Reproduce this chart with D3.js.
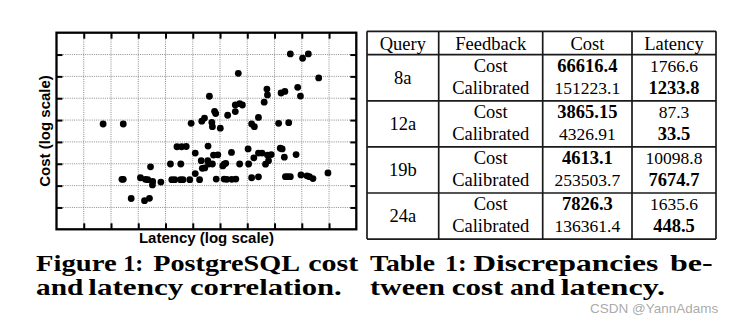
<!DOCTYPE html>
<html><head><meta charset="utf-8">
<script src="https://cdn.jsdelivr.net/npm/d3@7"></script>
<style>html,body{margin:0;padding:0;background:#fff;}svg{display:block;}</style>
</head><body>
<svg id="c" width="737" height="324"></svg>
<script>
const latencyLog = [1.71,2.45,2.74,3.23,3.41,2.40,2.45,3.08,3.26,3.35,3.53,3.52,3.83,3.45,4.18,4.56,4.23,4.34,4.55,4.64,4.89,5.25,4.42,4.59,4.76,5.09,5.31,5.35,5.44,5.09,4.94,5.33,5.43,5.56,5.58,5.72,5.55,5.76,5.92,5.86,6.10,6.15,6.21,6.15,6.25,6.43,6.58,6.42,6.72,7.03,7.05,7.16,7.24,7.41,7.54,7.41,7.67,7.74,7.88,7.78,8.21,8.28,8.36,8.40,8.49,8.58,8.79,8.97,9.19,9.28,9.41,9.96,5.80,5.84,6.28,6.56,5.70,5.72,6.01,7.16,7.26,7.41,8.15,8.52,8.58,9.03,9.24,9.62,6.67,8.85,8.95,7.72,7.74,8.24,8.38,7.62,5.61,6.56,6.72,6.82];
const costLog    = [4.82,4.82,1.41,1.31,1.42,2.29,2.29,2.36,2.29,2.27,2.19,2.03,2.16,2.86,2.99,2.99,2.27,2.27,2.27,2.27,2.27,2.27,3.78,3.78,3.79,3.49,3.14,2.79,2.81,2.55,4.85,4.95,5.09,3.81,2.99,2.99,3.14,3.40,3.41,2.30,2.90,2.98,3.02,2.30,2.29,2.29,2.30,3.52,2.99,3.68,2.99,2.36,3.27,3.49,3.49,2.40,2.98,3.40,3.42,3.14,3.71,3.68,3.30,2.41,2.41,2.41,3.42,2.49,2.45,2.41,2.32,2.58,5.40,5.30,5.22,5.39,4.89,4.70,4.63,4.82,4.70,5.12,4.85,4.88,8.03,7.83,8.03,6.93,7.14,6.50,6.10,6.42,6.15,6.24,6.31,5.82,6.09,5.69,5.75,5.69];
const xGrid = [1,2,3,4,5,6,7,8,9,10];
const yGrid = [1,2,3,4,5,6,7,8];

// ---- Table data ----
const queries = ["8a","12a","19b","24a"];
const feedback = ["Cost","Calibrated"];
const headers = ["Query","Feedback","Cost","Latency"];
const costLabels = [["66616.4","151223.1"],["3865.15","4326.91"],["4613.1","253503.7"],["7826.3","136361.4"]];
const latencyLabels = [["1766.6","1233.8"],["87.3","33.5"],["10098.8","7674.7"],["1635.6","448.5"]];

const svg = d3.select("#c");
svg.append("rect").attr("width",737).attr("height",324).attr("fill","#fff");

// ---- Scatter ----
const x = d3.scaleLinear().domain([0,11]).range([56.5,356.3]);
const y = d3.scaleLinear().domain([0,9]).range([229.3,32.7]);
const g = svg.append("g");
g.selectAll("line.vg").data(xGrid).join("line").attr("class","vg")
  .attr("x1",d=>x(d)).attr("x2",d=>x(d)).attr("y1",y(9)).attr("y2",y(0))
  .attr("stroke","#8a8a8a").attr("stroke-width",1).attr("stroke-dasharray","1,1.2");
g.selectAll("line.hg").data(yGrid).join("line").attr("class","hg")
  .attr("y1",d=>y(d)).attr("y2",d=>y(d)).attr("x1",x(0)).attr("x2",x(11))
  .attr("stroke","#8a8a8a").attr("stroke-width",1).attr("stroke-dasharray","1,1.2");

function styleAxis(sel){
  sel.select(".domain").remove();
  sel.selectAll(".tick line").attr("stroke","#000").attr("stroke-width",2);
  sel.selectAll(".tick text").remove();
}
g.append("g").attr("transform",`translate(${x(0)},0)`).call(d3.axisLeft(y).tickValues(yGrid).tickSize(-6).tickFormat("")).call(styleAxis);
g.append("g").attr("transform",`translate(${x(11)},0)`).call(d3.axisRight(y).tickValues(yGrid).tickSize(-6).tickFormat("")).call(styleAxis);
g.append("g").attr("transform",`translate(0,${y(9)})`).call(d3.axisTop(x).tickValues(xGrid).tickSize(-6).tickFormat("")).call(styleAxis);
g.append("g").attr("transform",`translate(0,${y(0)})`).call(d3.axisBottom(x).tickValues(xGrid).tickSize(-6).tickFormat("")).call(styleAxis);

g.append("rect").attr("x",x(0)).attr("y",y(9)).attr("width",x(11)-x(0)).attr("height",y(0)-y(9))
  .attr("fill","none").attr("stroke","#000").attr("stroke-width",2.3);

const pts = latencyLog.map((v,i)=>({lx:v, cy:costLog[i]}));
g.selectAll("circle").data(pts).join("circle")
  .attr("cx",d=>x(d.lx)).attr("cy",d=>y(d.cy)).attr("r",3.4).attr("fill","#000");

g.append("text").attr("x",(x(0)+x(11))/2).attr("y",242.5).attr("text-anchor","middle")
  .attr("font-family","Liberation Sans, Arial, sans-serif").attr("font-weight","bold").attr("font-size",15)
  .text("Latency (log scale)");
g.append("text").attr("transform",`translate(49.5,${(y(0)+y(9))/2}) rotate(-90)`).attr("text-anchor","middle")
  .attr("font-family","Liberation Sans, Arial, sans-serif").attr("font-weight","bold").attr("font-size",15)
  .text("Cost (log scale)");

// ---- Table ----
const colX = [367,438.7,542.7,632,716];
const tTop = 31.3, hBot = 54.7, grpH = 46.1;
const tb = svg.append("g");
const serif = "Liberation Serif, Times New Roman, serif";
const rowLines = [tTop, hBot].concat(queries.map((q,i)=>hBot+grpH*(i+1)));
tb.selectAll("line.r").data(rowLines).join("line").attr("class","r")
  .attr("x1",colX[0]).attr("x2",colX[4]).attr("y1",d=>d).attr("y2",d=>d)
  .attr("stroke","#1a1a1a").attr("stroke-width",1.7);
tb.selectAll("line.c").data(colX).join("line").attr("class","c")
  .attr("x1",d=>d).attr("x2",d=>d).attr("y1",tTop).attr("y2",rowLines[rowLines.length-1])
  .attr("stroke","#1a1a1a").attr("stroke-width",1.7);
const colC = [0,1,2,3].map(i=>(colX[i]+colX[i+1])/2);
tb.selectAll("text.h").data(headers).join("text").attr("class","h")
  .attr("x",(d,i)=>colC[i]).attr("y",49.5).attr("text-anchor","middle")
  .attr("font-family",serif).attr("font-size",18.5).text(d=>d);
queries.forEach((q,i)=>{
  const top = hBot + grpH*i;
  tb.append("text").attr("x",colC[0]).attr("y",top+grpH/2+6).attr("text-anchor","middle")
    .attr("font-family",serif).attr("font-size",18.5).text(q);
  const cmin = d3.min(costLabels[i], s=>+s), lmin = d3.min(latencyLabels[i], s=>+s);
  feedback.forEach((f,j)=>{
    const by = top + 16.8 + j*22;
    tb.append("text").attr("x",colC[1]).attr("y",by).attr("text-anchor","middle")
      .attr("font-family",serif).attr("font-size",18.5).text(f);
    const cb = +costLabels[i][j]===cmin, lb = +latencyLabels[i][j]===lmin;
    tb.append("text").attr("x",colC[2]).attr("y",by).attr("text-anchor","middle")
      .attr("font-family",serif).attr("font-size",cb?18.5:17.5).attr("font-weight",cb?"bold":"normal").text(costLabels[i][j]);
    tb.append("text").attr("x",colC[3]).attr("y",by).attr("text-anchor","middle")
      .attr("font-family",serif).attr("font-size",lb?18.5:17.5).attr("font-weight",lb?"bold":"normal").text(latencyLabels[i][j]);
  });
});

// ---- Captions (justified words) ----
const capWords = [
  {t:"Figure",x0:36,x1:116.7,y:271},{t:"1:",x0:123.3,x1:143.3,y:271},{t:"PostgreSQL",x0:153.3,x1:300,y:271},{t:"cost",x0:308.3,x1:358.3,y:271},
  {t:"and",x0:36,x1:83.3,y:294.5},{t:"latency",x0:88.3,x1:183.3,y:294.5},{t:"correlation.",x0:190,x1:341.7,y:294.5},
  {t:"Table",x0:370,x1:435,y:271},{t:"1:",x0:445,x1:466.7,y:271},{t:"Discrepancies",x0:473.3,x1:658.3,y:271},{t:"be-",x0:670,x1:712.7,y:271},
  {t:"tween",x0:370,x1:445,y:294.5},{t:"cost",x0:451.7,x1:503.3,y:294.5},{t:"and",x0:510,x1:555,y:294.5},{t:"latency.",x0:560.7,x1:665,y:294.5}
];
svg.append("g").selectAll("text").data(capWords).join("text")
  .attr("x",d=>d.x0).attr("y",d=>d.y).attr("font-family",serif).attr("font-weight","bold").attr("font-size",24)
  .attr("textLength",d=>d.x1-d.x0).attr("lengthAdjust","spacingAndGlyphs").attr("fill","#000").text(d=>d.t);

svg.append("text").attr("x",590).attr("y",313).attr("font-family","Liberation Sans, Arial, sans-serif")
  .attr("font-size",13.5).attr("fill","#a0a0a0").attr("fill-opacity",0.9).text("CSDN @YannAdams");
</script>
</body></html>
